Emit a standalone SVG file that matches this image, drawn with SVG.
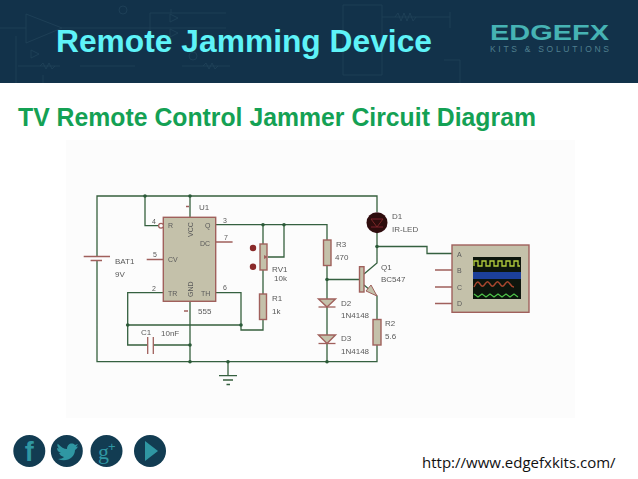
<svg xmlns="http://www.w3.org/2000/svg" width="638" height="479" viewBox="0 0 638 479">
<defs><filter id="soft" x="-2%" y="-2%" width="104%" height="104%"><feGaussianBlur stdDeviation="0.35"/></filter></defs>
<style>
text{font-family:"Liberation Sans",Arial,sans-serif}
.w{fill:none;stroke:#35603f;stroke-width:1.300}
.p{fill:none;stroke:#a0605c;stroke-width:1.300}
.b{fill:#c4c1aa;stroke:#a0605c;stroke-width:1.400}
.j{fill:#2c5a38}
.l{font-size:8px;fill:#5a5a5a}
.n{font-size:7px;fill:#5a5a5a}
.bg{fill:none;stroke:#214259;stroke-width:.8}
.ic{fill:#123c52}
.ig{fill:#2f97a3}
</style>
<rect width="638" height="479" fill="#fff"/>
<rect x="66" y="140" width="509" height="278" fill="#fcfcfc"/>
<g id="header">
<rect width="638" height="83" fill="#12324a"/>
<path class="bg" d="M26 14V43L62 28ZM0 28H26M62 28H150M16 36V83M150 13H226M150 28H226M150 13V40M343 5H382V75H343ZM382 17H450M450 12V28M444 60H460V83M18 66H60M80 66H135M182 66H230M43 75V83"/>
<path class="bg" d="M171 9V13M170 14L178 18L170 22ZM170 29L178 33L170 37ZM31 50L39 54L31 58Z"/>
<path class="bg" d="M40 66l3-3 3 6 3-6 3 6 3-3M203 66l3-3 3 6 3-6 3 6 3-3M395 17l3-4 3 8 3-8 3 8 3-8 3 8 3-4"/>
<circle class="bg" cx="123" cy="10" r="4"/><circle class="bg" cx="193" cy="56" r="4"/>
<text x="56" y="52" font-size="32" font-weight="bold" fill="#5ef3f8" textLength="376" lengthAdjust="spacingAndGlyphs">Remote Jamming Device</text>
</g>
<g id="logo">
<text x="490" y="40" font-size="22" font-weight="bold" fill="#46b3b4" textLength="119" lengthAdjust="spacingAndGlyphs">EDGEFX</text>
<text x="490" y="52" font-size="8.500" fill="#4f7f8e" textLength="119">KITS &amp; SOLUTIONS</text>
</g>
<text id="subtitle" x="18" y="126" font-size="25" font-weight="bold" fill="#14a154" textLength="518" lengthAdjust="spacingAndGlyphs">TV Remote Control Jammer Circuit Diagram</text>
<g filter="url(#soft)">
<g id="connectors">
<path class="w" d="M97 256V196H377V212M97 260V361.700H377V345M145 196V225.700H158M190 196V217M190 301V361.700M215.700 224.700H327V240M263 224.700V244M263 270V294M263 319.500V330H241V292.700H215.700M284 224.700V257H268M163 292.700H127.700V345H147.700M153.300 345H190M127.700 325H241M228 361.700V375.700M377 233V263L364 274M364 285L377 296V319.500M327 265.500V299M327 307V335M327 343.500V361.700M327 279.500H360M377 246.500H427V253.500H452"/>
<path class="p" d="M146.700 259.500H163M215.700 242H232.600M435 270H452M435 287H452M435 303.500H452M186 206.500H189M184 311H188"/>
<g class="j"><circle cx="145" cy="196" r="1.800"/><circle cx="190" cy="196" r="1.800"/><circle cx="263" cy="224.700" r="1.800"/><circle cx="284" cy="224.700" r="1.800"/><circle cx="127.700" cy="325" r="1.800"/><circle cx="241" cy="325" r="1.800"/><circle cx="190" cy="345" r="1.800"/><circle cx="190" cy="361.700" r="1.800"/><circle cx="228" cy="361.700" r="1.800"/><circle cx="327" cy="361.700" r="1.800"/><circle cx="327" cy="279.500" r="1.800"/><circle cx="377" cy="246.500" r="1.800"/></g>
</g>
<g id="BAT1">
<path class="p" d="M83.700 256.500H110M90.600 260.500H102"/>
<text class="l" x="115" y="264">BAT1</text><text class="l" x="115" y="277">9V</text>
</g>
<g id="U1">
<rect class="b" x="163.300" y="217.300" width="52.400" height="84"/>
<circle cx="161" cy="225.700" r="2.400" fill="#fff" stroke="#a0605c" stroke-width="1.200"/>
<text class="l" x="199" y="210">U1</text>
<text class="n" x="152" y="224">4</text><text class="n" x="153" y="257">5</text><text class="n" x="152" y="291">2</text>
<text class="n" x="223" y="223">3</text><text class="n" x="224" y="240">7</text><text class="n" x="223" y="290">6</text>
<text class="n" x="168" y="228">R</text><text class="n" x="168" y="262">CV</text><text class="n" x="168" y="296">TR</text>
<text class="n" x="205" y="228">Q</text><text class="n" x="200" y="246">DC</text><text class="n" x="201" y="296">TH</text>
<text class="n" transform="translate(193 237)rotate(-90)">VCC</text>
<text class="n" transform="translate(193 297)rotate(-90)">GND</text>
<text class="l" x="198" y="314">555</text>
</g>
<g id="RV1">
<rect class="b" x="260" y="244" width="7" height="26"/>
<path d="M268 257L264 255V259Z" fill="#a0605c"/>
<circle cx="253" cy="248" r="3.200" fill="#8a2a2a"/><circle cx="253" cy="266.700" r="3.200" fill="#8a2a2a"/>
<text class="l" x="272" y="272">RV1</text><text class="l" x="274" y="281">10k</text>
</g>
<g id="R1">
<rect class="b" x="259.500" y="294" width="7" height="25.500"/>
<text class="l" x="272" y="301">R1</text><text class="l" x="272" y="314">1k</text>
</g>
<g id="C1">
<path class="p" d="M147.700 337V354M153.300 337V354"/>
<text class="l" x="141" y="335">C1</text><text class="l" x="161" y="336">10nF</text>
</g>
<g id="GND">
<path class="w" d="M219 375.700H237M223 380H233M226.500 384.500H230"/>
</g>
<g id="D1">
<circle cx="377" cy="222.700" r="10.500" fill="#2e080c"/>
<path d="M371 219H383L377 227ZM371 227H383" fill="none" stroke="#7a2a2a" stroke-width="1"/>
<text class="l" x="392" y="219">D1</text><text class="l" x="392" y="232">IR-LED</text>
</g>
<g id="R3">
<rect class="b" x="323.500" y="240" width="7.500" height="25.500"/>
<text class="l" x="336" y="247">R3</text><text class="l" x="335" y="260">470</text>
</g>
<g id="Q1">
<rect class="b" x="359.500" y="266.700" width="4.500" height="25.300"/>
<path d="M377 296L366 291L371 285Z" fill="#c4c1aa" stroke="#a0605c" stroke-width="1"/>
<text class="l" x="381" y="270">Q1</text><text class="l" x="381" y="282">BC547</text>
</g>
<g id="D2">
<path class="b" d="M318.500 299H335.500L327 307Z"/>
<path class="p" d="M318.500 307H335.500"/>
<text class="l" x="341" y="306">D2</text><text class="l" x="341" y="318">1N4148</text>
</g>
<g id="D3">
<path class="b" d="M318.500 335H335.500L327 343.500Z"/>
<path class="p" d="M318.500 343.500H335.500"/>
<text class="l" x="341" y="341">D3</text><text class="l" x="341" y="354">1N4148</text>
</g>
<g id="R2">
<rect class="b" x="373" y="319.500" width="8" height="25.500"/>
<text class="l" x="385" y="326">R2</text><text class="l" x="385" y="339">5.6</text>
</g>
<g id="scope">
<rect class="b" x="452" y="245" width="77" height="67.300"/>
<rect x="473" y="257" width="48" height="42" fill="#08180c"/>
<rect x="473" y="272" width="48" height="7" fill="#1c3f9a"/>
<path d="M474 266V261H478V266H482V261H486V266H490V261H494V266H498V261H502V266H506V261H510V266H514V261H518V266H520" fill="none" stroke="#b5cc3c" stroke-width="1.300"/>
<path d="M474 287c3-6 4-6 6-3s3 3 5 0 3-3 5 0 3 3 5 0 3-3 5 0 3 3 5 0 3-3 5 0 3 3 4 3" fill="none" stroke="#a8452f" stroke-width="1.500"/>
<path d="M474 294l4 3 4-3 4 3 4-3 4 3 4-3 4 3 4-3 4 3 4-3 4 3" fill="none" stroke="#4fc04a" stroke-width="1.300"/>
<text class="n" x="457" y="257">A</text><text class="n" x="457" y="273">B</text><text class="n" x="457" y="290">C</text><text class="n" x="457" y="306">D</text>
</g>
</g>
<g id="social">
<circle class="ic" cx="29.300" cy="451" r="16"/>
<text class="ig" x="29.300" y="461" font-size="27" font-weight="bold" text-anchor="middle">f</text>
<circle class="ic" cx="66.800" cy="451" r="16"/>
<path class="ig" d="M58 444c3 3 6 5 9 5 0-5 5-7 8-4l3-1-2 3 2-.5c-1 2-2 3-3 3.500 0 7-8 13-17 9 3 0 5-1 6-2-3-1-4-2-5-4h2c-3-1-4-3-4-5l2 .5c-2-2-2-4-1-5Z"/>
<circle class="ic" cx="106.500" cy="451" r="16"/>
<text class="ig" x="98" y="459" font-size="22" style="font-family:'Liberation Serif',serif">g</text>
<text class="ig" x="108" y="451" font-size="13">+</text>
<circle class="ic" cx="150" cy="451" r="16"/>
<path class="ig" d="M145 441V461L158 451Z"/>
</g>
<text id="url" x="422" y="468" font-size="15" fill="#111" style="font-family:'Open Sans',sans-serif">http://www.edgefxkits.com/</text>
</svg>
